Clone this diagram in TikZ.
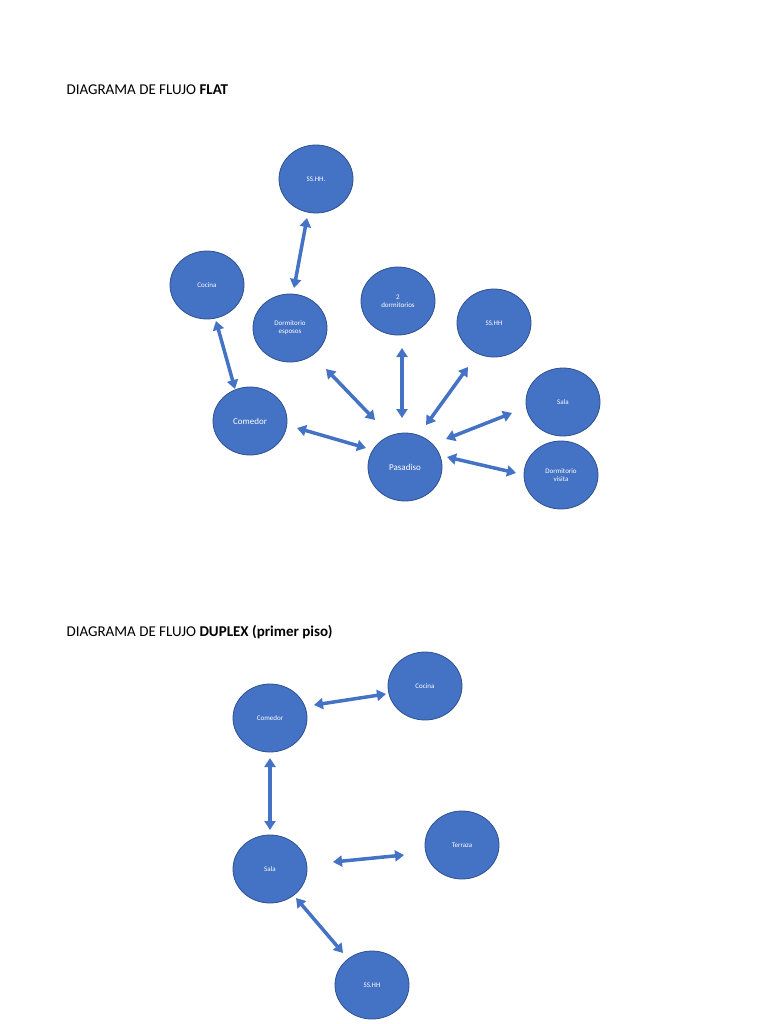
\documentclass[tikz,border=0pt]{standalone}
\usepackage{fontspec}
\setmainfont{Carlito}
\usetikzlibrary{arrows.meta,shapes.geometric}
\definecolor{fillb}{HTML}{4472C4}
\definecolor{edgeb}{HTML}{2F528F}
\tikzset{
 room/.style={ellipse,draw=edgeb,fill=fillb,line width=0.8pt,minimum width=74pt,minimum height=68pt,inner sep=0pt,text=white,font=\fontsize{7}{8}\selectfont,align=center},
 bigtxt/.style={font=\fontsize{9}{10}\selectfont},
 link/.style={draw=fillb,line width=3.5pt,{Triangle[length=9pt,width=11pt]}-{Triangle[length=9pt,width=11pt]}},
 ttl/.style={anchor=west,font=\fontsize{15}{17}\selectfont}
}
\begin{document}
\begin{tikzpicture}[x=1pt,y=-1pt]
\useasboundingbox[fill=white] (0,0) rectangle (768,1024);
\node[ttl] (t1) at (63,90) {DIAGRAMA DE FLUJO \textbf{FLAT}};
\node[ttl] (t2) at (63,632) {DIAGRAMA DE FLUJO \textbf{DUPLEX (primer piso)}};
\node[room] (sshh1) at (316,179) {SS.HH.};
\node[room] (coc1) at (207,285) {Cocina};
\node[room] (desp) at (290,328) {Dormitorio\\esposos};
\node[room] (dor2) at (398,301) {2\\dormitorios};
\node[room] (sshh2) at (494,323) {SS.HH};
\node[room] (sala1) at (563,402) {Sala};
\node[room,bigtxt] (com1) at (250,421) {Comedor};
\node[room,bigtxt] (pas) at (405,467) {Pasadiso};
\node[room] (dvis) at (561,475) {Dormitorio\\visita};
\node[room] (com2) at (270,718) {Comedor};
\node[room] (coc2) at (425,686) {Cocina};
\node[room] (sala2) at (270,869) {Sala};
\node[room] (terr) at (462,845) {Terraza};
\node[room] (sshh3) at (372,985) {SS.HH};
\foreach \n/\a/\b/\c/\d in {a/307/218/294/288, b/216/321/235/389, c/326/369/375/420, d/402/348/402/418, e/468/367/426/425, f/512/413/446/439, g/297/428/366/448, h/447/457/516/473, i/314/705/386/694, j/270/758/270/830, k/333/862/404/855, l/296/898/343/953}{
 \coordinate (\n1) at (\a,\b); \coordinate (\n2) at (\c,\d);
 \draw[link] (\n1) -- (\n2);
}
\end{tikzpicture}
\end{document}
